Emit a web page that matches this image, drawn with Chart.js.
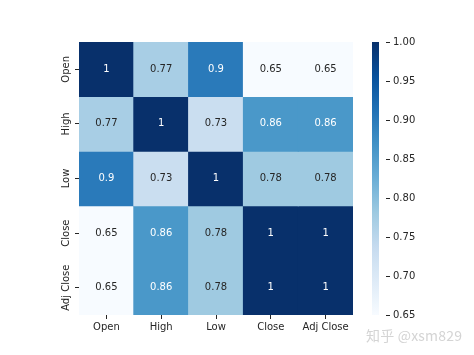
<!DOCTYPE html>
<html>
<head>
<meta charset="utf-8">
<script src="https://cdn.jsdelivr.net/npm/chart.js@4.4.0/dist/chart.umd.min.js"></script>
<style>
  html, body { margin: 0; padding: 0; background: #fff; }
  #wrap { position: relative; width: 474px; height: 355px; overflow: hidden; }
  canvas { position: absolute; left: 0; top: 0; }
  #wm { position: absolute; left: 366px; top: 325px; font-family: "Noto Sans CJK SC", "DejaVu Sans", sans-serif;
        font-size: 14px; color: #d4d4d4; letter-spacing: 0.2px; white-space: nowrap;
        text-shadow: 0 0 1px #fff; }
</style>
</head>
<body>
<div id="wrap">
  <canvas id="heat" width="474" height="355"></canvas>
  <canvas id="cbar" width="474" height="355"></canvas>
  <div id="wm">知乎 @xsm829</div>
</div>
<script>
// ---- data ----
const colLabels = ["Open", "High", "Low", "Close", "Adj Close"];
const rowLabels = ["Open", "High", "Low", "Close", "Adj Close"];
const rowOpen  = [1, 0.77, 0.9, 0.65, 0.65];
const rowHigh  = [0.77, 1, 0.73, 0.86, 0.86];
const rowLow   = [0.9, 0.73, 1, 0.78, 0.78];
const rowClose = [0.65, 0.86, 0.78, 1, 1];
const rowAdj   = [0.65, 0.86, 0.78, 1, 1];
const colorbarTicks = [0.65, 0.70, 0.75, 0.80, 0.85, 0.90, 0.95, 1.00];
const vmin = 0.65, vmax = 1.00;

const matrix = [rowOpen, rowHigh, rowLow, rowClose, rowAdj];

// Blues colormap stops
const blues = ["#f7fbff","#deebf7","#c6dbef","#9ecae1","#6baed6","#4292c6","#2171b5","#08519c","#08306b"];
function hexToRgb(h){ return [parseInt(h.substr(1,2),16), parseInt(h.substr(3,2),16), parseInt(h.substr(5,2),16)]; }
const bluesRgb = blues.map(hexToRgb);
function cmap(v){
  let t = (v - vmin) / (vmax - vmin);
  t = Math.max(0, Math.min(1, t));
  const p = t * (bluesRgb.length - 1);
  const i = Math.min(Math.floor(p), bluesRgb.length - 2);
  const f = p - i;
  const a = bluesRgb[i], b = bluesRgb[i+1];
  return [0,1,2].map(k => Math.round(a[k] + (b[k]-a[k]) * f));
}
function rgbStr(c){ return "rgb(" + c.join(",") + ")"; }
function lum(c){
  const lin = c.map(x => { x /= 255; return x <= 0.03928 ? x/12.92 : Math.pow((x+0.055)/1.055, 2.4); });
  return 0.2126*lin[0] + 0.7152*lin[1] + 0.0722*lin[2];
}
function fmt(v){ return String(Number(v.toPrecision(2))); }

const FONT = "'DejaVu Sans', sans-serif";
const TXT = "#262626";

const datasets = matrix.map((row, r) => ({
  label: rowLabels[r],
  data: row.map(() => 1),
  values: row,
  backgroundColor: row.map(v => rgbStr(cmap(v))),
  borderWidth: 0,
  inflateAmount: 0.5,
  barPercentage: 1,
  categoryPercentage: 1
}));

const annotPlugin = {
  id: 'annot',
  afterDatasetsDraw(chart) {
    const ctx = chart.ctx;
    ctx.save();
    ctx.font = "10px " + FONT;
    ctx.textAlign = "center";
    ctx.textBaseline = "middle";
    chart.data.datasets.forEach((ds, r) => {
      const meta = chart.getDatasetMeta(r);
      meta.data.forEach((el, c) => {
        const v = ds.values[c];
        const col = cmap(v);
        ctx.fillStyle = lum(col) < 0.408 ? "#ffffff" : TXT;
        const cy = (el.y + el.base) / 2;
        ctx.fillText(fmt(v), el.x, cy);
      });
    });
    ctx.restore();
  }
};

new Chart(document.getElementById('heat'), {
  type: 'bar',
  data: { labels: colLabels, datasets },
  options: {
    responsive: false,
    animation: false,
    devicePixelRatio: 1,
    layout: { padding: { top: 42, right: 121, left: 0, bottom: 0 } },
    plugins: { legend: { display: false }, tooltip: { enabled: false } },
    scales: {
      x: {
        type: 'category',
        stacked: true,
        offset: true,
        grid: { display: true, drawOnChartArea: false, drawTicks: true, tickLength: 4, tickColor: TXT, tickWidth: 1, offset: false },
        border: { display: false },
        ticks: { color: TXT, font: { family: FONT, size: 10 }, padding: 2, maxRotation: 0, minRotation: 0 },
        afterFit(s) { s.height = 40; }
      },
      y: {
        type: 'linear',
        stacked: true,
        min: 0, max: 5,
        reverse: true,
        grid: { display: true, drawOnChartArea: false, drawTicks: true, tickLength: 4, tickColor: TXT, tickWidth: 1 },
        border: { display: false },
        afterBuildTicks(s) { s.ticks = rowLabels.map((_, i) => ({ value: i + 0.5 })); },
        ticks: {
          color: TXT, font: { family: FONT, size: 10 },
          minRotation: 90, maxRotation: 90,
          crossAlign: 'center', padding: -15,
          callback: (v) => rowLabels[Math.floor(v)]
        },
        afterFit(s) { s.width = 79; }
      }
    }
  },
  plugins: [annotPlugin]
});

new Chart(document.getElementById('cbar'), {
  type: 'bar',
  data: {
    labels: [''],
    datasets: [{
      data: [[vmin, vmax]],
      borderWidth: 0,
      inflateAmount: 0,
      barPercentage: 1,
      categoryPercentage: 1,
      backgroundColor(ctx) {
        const ca = ctx.chart.chartArea;
        if (!ca) return blues[4];
        const g = ctx.chart.ctx.createLinearGradient(0, ca.bottom, 0, ca.top);
        blues.forEach((c, i) => g.addColorStop(i / (blues.length - 1), c));
        return g;
      }
    }]
  },
  options: {
    responsive: false,
    animation: false,
    devicePixelRatio: 1,
    layout: { padding: { top: 42, right: 38, left: 372, bottom: 40 } },
    plugins: { legend: { display: false }, tooltip: { enabled: false } },
    scales: {
      x: { display: false, offset: false },
      y: {
        type: 'linear',
        position: 'right',
        min: vmin, max: vmax,
        grid: { display: true, drawOnChartArea: false, drawTicks: true, tickLength: 4, tickColor: TXT, tickWidth: 1 },
        border: { display: false },
        afterBuildTicks(s) { s.ticks = colorbarTicks.map(v => ({ value: v })); },
        ticks: { color: TXT, font: { family: FONT, size: 10 }, padding: 3, callback: (v) => Number(v).toFixed(2) },
        afterFit(s) { s.width = 50; }
      }
    }
  }
});
</script>
</body>
</html>
